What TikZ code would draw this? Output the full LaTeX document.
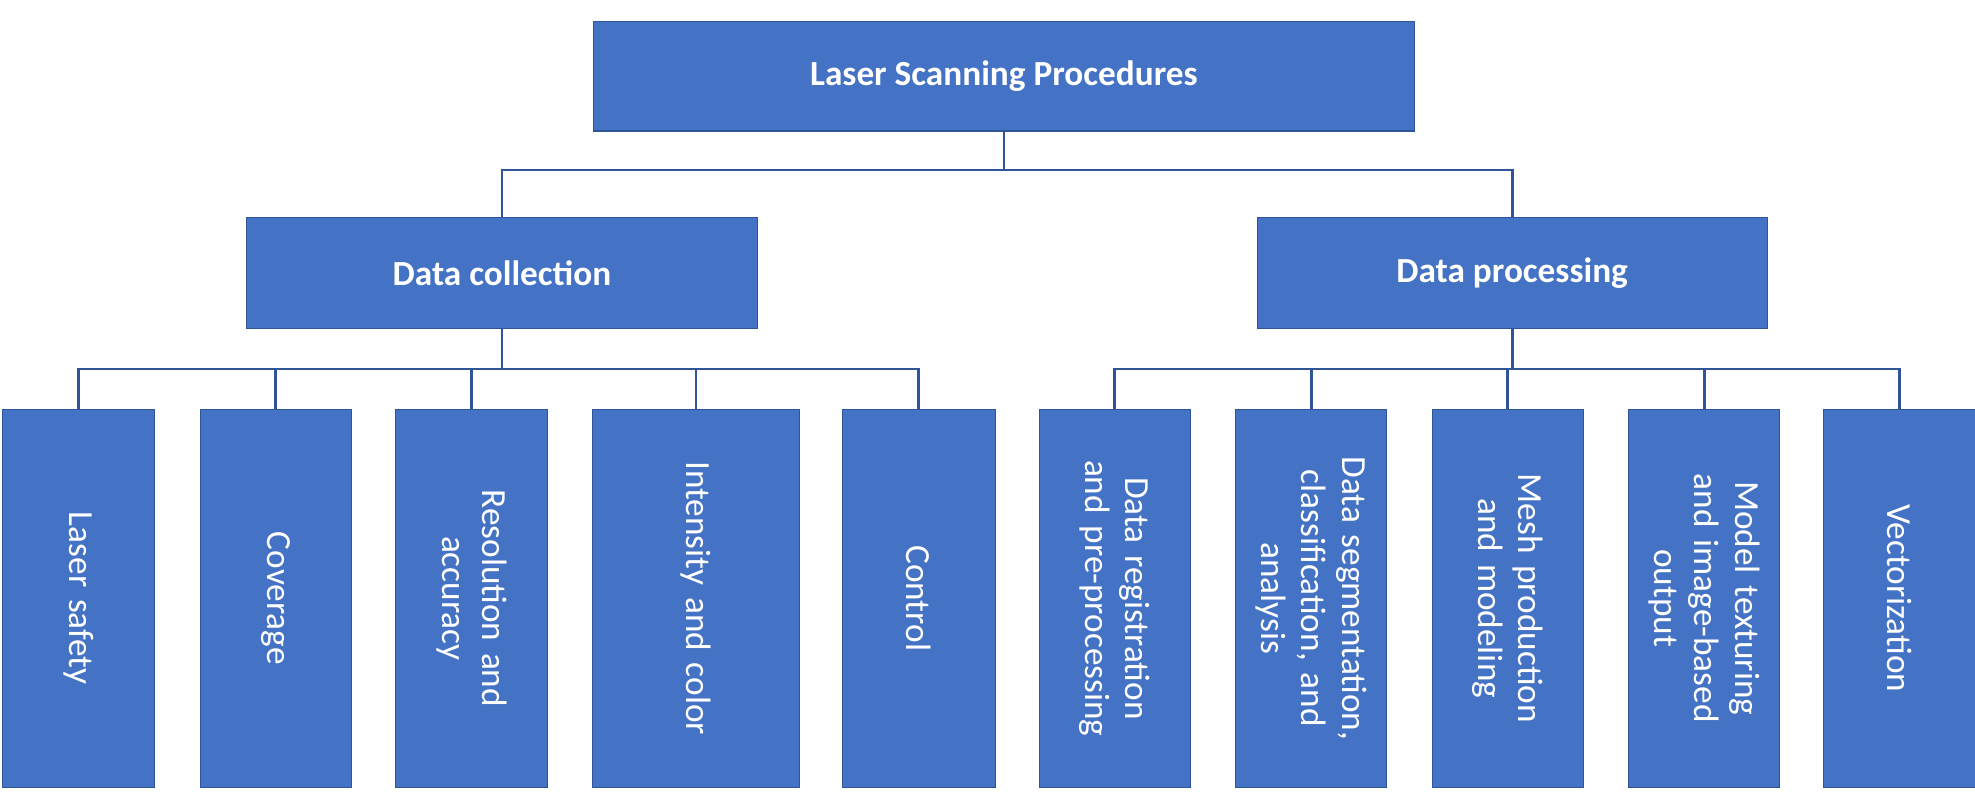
\documentclass[tikz,border=0pt]{standalone}
\usepackage{fontspec}
\setmainfont{Carlito}
\definecolor{bx}{HTML}{4472C4}
\definecolor{ln}{HTML}{2F5597}
\begin{document}
\begin{tikzpicture}[x=1pt,y=-1pt,
  box/.style={draw=ln,line width=0.8pt,fill=bx,inner sep=0pt},
  head/.style={text=white,font=\fontsize{28}{32}\selectfont\bfseries},
  lt/.style={text=white,rotate=-90,align=center,text width=285pt,font=\fontsize{28}{32}\selectfont},
  con/.style={draw=ln,line width=2.2pt}]
\useasboundingbox (0,0) rectangle (1568,632);
\node[box,minimum width=652,minimum height=87] (top) at (797,60.5) {};
\node[head] at (top) {Laser Scanning Procedures};
\node[box,minimum width=405,minimum height=88] (dc) at (398.5,217) {};
\node[head] at (dc) {Data collection};
\node[box,minimum width=405,minimum height=88] (dp) at (1200.5,217) {};
\node[head] at (dp) {Data processing};
\foreach \n/\a/\b/\t in {l1/2/123/{Laser safety}, l2/159/279/{Coverage}, l3/314/435/{Resolution and\\accuracy}, l4/470/635/{Intensity and color}, l5/669/790/{Control}, r1/825/945/{Data registration\\and pre-processing}, r2/981/1101/{Data segmentation,\\classification, and\\analysis}, r3/1137/1257/{Mesh production\\and modeling}, r4/1293/1413/{Model texturing\\and image-based\\output}, r5/1448/1568/{Vectorization}}{
  \pgfmathsetmacro{\w}{\b-\a}
  \pgfmathsetmacro{\cx}{(\a+\b)/2}
  \node[box,minimum width=\w,minimum height=300] (\n) at (\cx,475) {};
  \node[lt] at (\n) {\t};
}
\coordinate (t1) at (797,135);
\draw[con] (top.south) -- (t1) -| (dc.north);
\draw[con] (t1) -| (dp.north);
\coordinate (c1) at (398.5,293);
\draw[con] (dc.south) -- (c1);
\foreach \n in {l1,l2,l3,l4,l5} \draw[con] (c1) -| (\n.north);
\coordinate (c2) at (1200.5,293);
\draw[con] (dp.south) -- (c2);
\foreach \n in {r1,r2,r3,r4,r5} \draw[con] (c2) -| (\n.north);
\end{tikzpicture}
\end{document}
